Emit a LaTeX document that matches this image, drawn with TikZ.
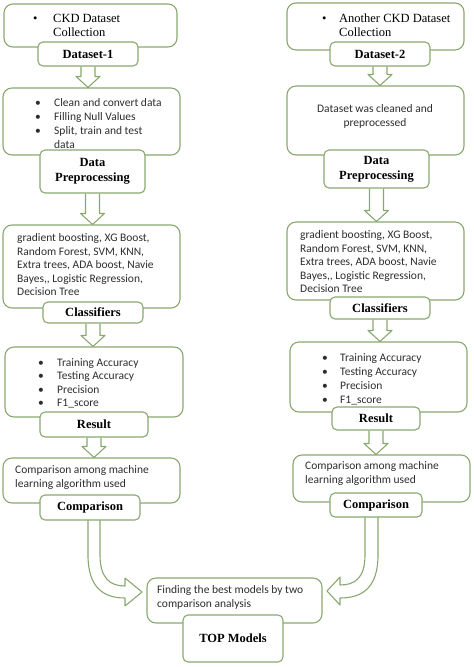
\documentclass[tikz,border=0pt]{standalone}
\usepackage{fontspec}
\setmainfont{Liberation Serif}
\newfontfamily\carlito{Carlito}
\usetikzlibrary{calc}
\definecolor{flowgreen}{RGB}{137,168,112}
\definecolor{inkgray}{RGB}{45,45,45}

\newcommand{\hollowdown}[2]{%
	\coordinate (tip) at (#1.south |- #2.north);
	\draw[blockarrow] ($(#1.south)+(-7,0)$) -- ($(tip)+(-7,-11)$) -- ($(tip)+(-12,-11)$) -- (tip)
		-- ($(tip)+(12,-11)$) -- ($(tip)+(7,-11)$) -- ($(#1.south)+(7,0)$);}

\begin{document}
\begin{tikzpicture}[
					x = 1pt, y = -1pt,
					bigbox/.style = {
						shape = rectangle,
						draw = flowgreen,
						line width = 1.1pt,
						rounded corners = 9pt,
						inner sep = 0pt,
					},
					tagbox/.style = {
						shape = rectangle,
						draw = flowgreen,
						line width = 1.1pt,
						fill = white,
						rounded corners = 5pt,
						inner sep = 0pt,
						align = center,
						font = \bfseries\fontsize{12.5}{15}\selectfont,
					},
					bodytext/.style = {
						anchor = north west,
						inner sep = 0pt,
						text = inkgray,
						align = left,
						font = \carlito\fontsize{11.5}{13.5}\selectfont,
					},
					seriftext/.style = {
						anchor = north west,
						inner sep = 0pt,
						font = \fontsize{12.5}{14}\selectfont,
					},
					blockarrow/.style = {
						draw = flowgreen,
						line width = 1.1pt,
						line join = round,
					},
			]
				\useasboundingbox (0, 0) rectangle (474, 667);

				\draw (90.5, 25.5) node (d1) [bigbox, minimum width = 173pt, minimum height = 43pt] {};
				\draw (91.5, 121.5) node (p1) [bigbox, minimum width = 177pt, minimum height = 67pt] {};
				\draw (91.5, 266.5) node (c1) [bigbox, minimum width = 177pt, minimum height = 83pt] {};
				\draw (94, 382) node (r1) [bigbox, minimum width = 178pt, minimum height = 70pt] {};
				\draw (91.5, 480.5) node (m1) [bigbox, minimum width = 177pt, minimum height = 45pt] {};
				\draw (375.5, 26.5) node (d2) [bigbox, minimum width = 177pt, minimum height = 47pt] {};
				\draw (375.5, 120.5) node (p2) [bigbox, minimum width = 177pt, minimum height = 69pt] {};
				\draw (375.5, 261) node (c2) [bigbox, minimum width = 177pt, minimum height = 78pt] {};
				\draw (378.5, 377) node (r2) [bigbox, minimum width = 177pt, minimum height = 70pt] {};
				\draw (381.5, 478.5) node (m2) [bigbox, minimum width = 177pt, minimum height = 47pt] {};
				\draw (234.5, 600.5) node (tb) [bigbox, minimum width = 175pt, minimum height = 45pt] {};

				\draw (33, 12.2) node (d1x) [seriftext] {\begin{tabular}{@{}p{20pt}@{}l@{}}\textbullet & CKD Dataset\\ & Collection\end{tabular}};
				\draw (35, 96.7) node (p1x) [bodytext, font = \carlito\fontsize{11.5}{14}\selectfont] {\begin{tabular}{@{}p{19pt}@{}l@{}}\textbullet & Clean and convert data\\ \textbullet & Filling Null Values\\ \textbullet & Split, train and test\\ & data\end{tabular}};
				\draw (17, 233.7) node (c1x) [bodytext] {gradient boosting, XG Boost,\\ Random Forest, SVM, KNN,\\ Extra trees, ADA boost, Navie\\ Bayes,, Logistic Regression,\\ Decision Tree};
				\draw (38, 356.7) node (r1x) [bodytext] {\begin{tabular}{@{}p{19pt}@{}l@{}}\textbullet & Training Accuracy\\ \textbullet & Testing Accuracy\\ \textbullet & Precision\\ \textbullet & F1\_score\end{tabular}};
				\draw (15, 465.7) node (m1x) [bodytext] {Comparison among machine\\ learning algorithm used};
				\draw (322, 12.2) node (d2x) [seriftext] {\begin{tabular}{@{}p{17pt}@{}l@{}}\textbullet & Another CKD Dataset\\ & Collection\end{tabular}};
				\draw (375, 104.7) node (p2x) [bodytext, anchor = north, align = center] {Dataset was cleaned and\\ preprocessed};
				\draw (300, 230.7) node (c2x) [bodytext] {gradient boosting, XG Boost,\\ Random Forest, SVM, KNN,\\ Extra trees, ADA boost, Navie\\ Bayes,, Logistic Regression,\\ Decision Tree};
				\draw (322, 351.7) node (r2x) [bodytext, font = \carlito\fontsize{11.5}{14}\selectfont] {\begin{tabular}{@{}p{18pt}@{}l@{}}\textbullet & Training Accuracy\\ \textbullet & Testing Accuracy\\ \textbullet & Precision\\ \textbullet & F1\_score\end{tabular}};
				\draw (305, 461.7) node (m2x) [bodytext] {Comparison among machine\\ learning algorithm used};
				\draw (157, 585.7) node (tbx) [bodytext] {Finding the best models by two\\ comparison analysis};

				\draw (88, 54) node (d1t) [tagbox, minimum width = 100pt, minimum height = 24pt] {Dataset-1};
				\draw (92.5, 171.5) node (p1t) [tagbox, minimum width = 105pt, minimum height = 43pt] {Data\\ Preprocessing};
				\draw (93, 312.5) node (c1t) [tagbox, minimum width = 100pt, minimum height = 21pt] {Classifiers};
				\draw (94, 424.5) node (r1t) [tagbox, minimum width = 108pt, minimum height = 25pt] {Result};
				\draw (90, 507.5) node (m1t) [tagbox, minimum width = 100pt, minimum height = 25pt] {Comparison};
				\draw (380, 54) node (d2t) [tagbox, minimum width = 100pt, minimum height = 24pt] {Dataset-2};
				\draw (376.5, 169) node (p2t) [tagbox, minimum width = 105pt, minimum height = 38pt] {Data\\ Preprocessing};
				\draw (380, 308) node (c2t) [tagbox, minimum width = 100pt, minimum height = 22pt] {Classifiers};
				\draw (376, 418.5) node (r2t) [tagbox, minimum width = 88pt, minimum height = 23pt] {Result};
				\draw (376, 505) node (m2t) [tagbox, minimum width = 92pt, minimum height = 24pt] {Comparison};
				\draw (233, 638.5) node (tbt) [tagbox, minimum width = 100pt, minimum height = 47pt] {TOP Models};

				\hollowdown{d1t}{p1}
				\hollowdown{p1t}{c1}
				\hollowdown{c1t}{r1}
				\hollowdown{r1t}{m1}
				\hollowdown{d2t}{p2}
				\hollowdown{p2t}{c2}
				\hollowdown{c2t}{r2}
				\hollowdown{r2t}{m2}

				\draw[blockarrow] (88, 520) -- (88, 555) .. controls (88, 586) and (102, 598) .. (125, 598) -- (125, 606)
					-- (142, 592) -- (125, 578) -- (125, 586) .. controls (110, 586) and (100, 578) .. (100, 555) -- (100, 520);
				\draw[blockarrow] (378, 517) -- (378, 555) .. controls (378, 586) and (364, 598) .. (340, 598) -- (340, 605)
					-- (327, 591) -- (340, 577) -- (340, 585) .. controls (355, 585) and (365, 578) .. (365, 555) -- (365, 517);
			\end{tikzpicture}
\end{document}
